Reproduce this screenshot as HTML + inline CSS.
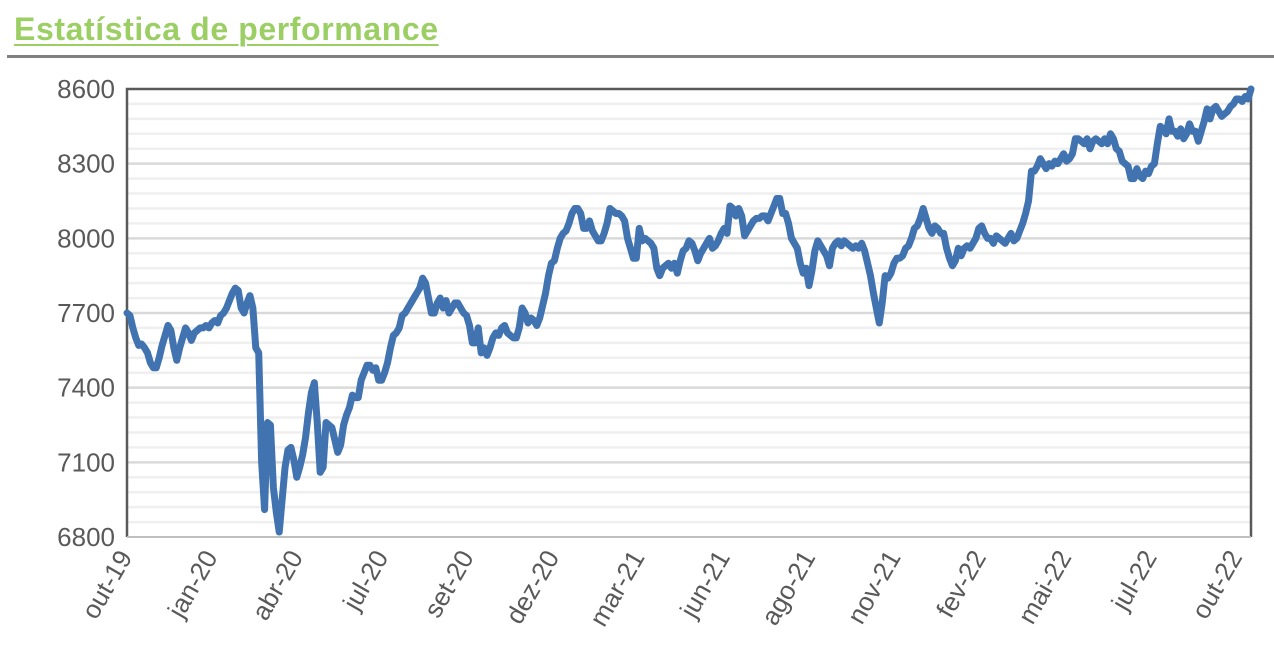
<!DOCTYPE html>
<html><head><meta charset="utf-8"><style>
body{margin:0;width:1274px;height:658px;background:#fff;overflow:hidden;font-family:"Liberation Sans",sans-serif}
</style></head><body>
<div style="position:absolute;left:14px;top:11px;font-size:32px;font-weight:bold;color:#9bcf63;text-decoration:underline;text-decoration-thickness:2px;text-underline-offset:4px;letter-spacing:0.6px">Estatística de performance</div>
<div style="position:absolute;left:7px;top:55px;width:1267px;height:3px;background:#808080"></div>
<svg id="c" width="1274" height="658" style="position:absolute;left:0;top:0"></svg>
<script>
const yTicks=[6800,7100,7400,7700,8000,8300,8600];
const xLabels=["out-19","jan-20","abr-20","jul-20","set-20","dez-20","mar-21","jun-21","ago-21","nov-21","fev-22","mai-22","jul-22","out-22"];
const values=[7700,7690,7640,7600,7570,7575,7560,7540,7500,7480,7480,7520,7570,7610,7650,7630,7560,7510,7560,7600,7640,7620,7590,7620,7630,7640,7640,7650,7640,7660,7670,7660,7690,7700,7720,7750,7780,7800,7790,7720,7700,7740,7770,7720,7560,7540,7100,6910,7260,7250,7000,6900,6820,6950,7080,7150,7160,7110,7040,7080,7130,7200,7300,7380,7420,7260,7060,7080,7260,7250,7240,7190,7140,7170,7250,7290,7320,7370,7360,7360,7430,7460,7490,7490,7470,7480,7430,7430,7460,7500,7560,7610,7620,7640,7690,7700,7720,7740,7760,7780,7800,7840,7820,7760,7700,7700,7740,7760,7720,7750,7700,7720,7740,7740,7720,7700,7690,7650,7580,7580,7640,7540,7560,7530,7560,7600,7620,7610,7640,7650,7620,7610,7600,7600,7640,7720,7700,7660,7680,7670,7650,7680,7730,7780,7850,7900,7910,7960,8000,8020,8030,8060,8100,8120,8120,8100,8040,8040,8070,8030,8010,7990,7990,8020,8060,8120,8110,8100,8100,8090,8070,8000,7960,7920,7920,8040,7990,8000,7990,7980,7960,7880,7850,7880,7890,7900,7880,7900,7860,7910,7950,7960,7990,7980,7950,7910,7940,7960,7980,8000,7960,7970,7990,8020,8040,8020,8130,8120,8090,8120,8090,8010,8030,8050,8070,8080,8080,8090,8090,8070,8100,8130,8160,8160,8100,8100,8060,8000,7980,7960,7900,7860,7880,7810,7870,7950,7990,7970,7950,7930,7890,7960,7980,7990,7970,7990,7980,7970,7960,7970,7960,7980,7950,7900,7850,7780,7720,7660,7740,7850,7840,7860,7900,7920,7920,7930,7960,7970,8000,8040,8050,8080,8120,8080,8040,8020,8050,8040,8020,8020,7960,7920,7890,7910,7960,7930,7960,7970,7960,7980,8000,8040,8050,8020,8000,8000,7980,8010,8000,7990,7980,8000,8020,7990,8000,8030,8060,8100,8150,8270,8270,8290,8320,8300,8280,8300,8290,8310,8300,8320,8340,8310,8320,8340,8400,8400,8390,8380,8400,8360,8390,8400,8390,8380,8400,8380,8420,8400,8360,8350,8310,8300,8290,8240,8240,8280,8250,8240,8270,8260,8290,8300,8380,8450,8440,8420,8480,8430,8430,8410,8440,8400,8420,8460,8430,8430,8390,8430,8470,8520,8480,8520,8530,8510,8490,8500,8510,8530,8540,8560,8560,8550,8570,8560,8600];
const svg=document.getElementById('c');const NS='http://www.w3.org/2000/svg';
const L=127,R=1251,T=89,B=537,ymin=6800,ymax=8600;
const y=v=>B-(v-ymin)/(ymax-ymin)*(B-T);
const x=i=>L+i/(values.length-1)*(R-L);
function mk(t,a){const e=document.createElementNS(NS,t);for(const k in a)e.setAttribute(k,a[k]);svg.appendChild(e);return e;}
for(let v=ymin+60;v<ymax;v+=60){const major=(v-ymin)%300===0;
const g=mk('line',{x1:L,x2:R,y1:y(v),y2:y(v),stroke:major?'#d9d9d9':'#efefef','stroke-width':2.5});

}
yTicks.forEach(v=>{const t=mk('text',{x:115,y:y(v)+9,'text-anchor':'end','font-size':26,fill:'#595959','font-family':'Liberation Sans, sans-serif'});t.textContent=v;

});
const ax=mk('path',{d:`M${L} ${B}V${T}H${R}V${B}`,fill:'none',stroke:'#595959','stroke-width':2.5});


const bx=mk('line',{x1:L,x2:R,y1:B,y2:B,stroke:'#bfbfbf','stroke-width':2});


xLabels.forEach((s,i)=>{const px=133+i*(1243-133)/(xLabels.length-1);const t=mk('text',{x:px,y:557,'text-anchor':'end','font-size':26,fill:'#595959','font-family':'Liberation Sans, sans-serif',transform:`rotate(-60 ${px} 557)`});t.textContent=s;

});
const p=mk('polyline',{points:values.map((v,i)=>x(i)+','+y(v)).join(' '),fill:'none',stroke:'#4173b0','stroke-width':7,'stroke-linejoin':'round','stroke-linecap':'round'});


</script>
</body></html>
